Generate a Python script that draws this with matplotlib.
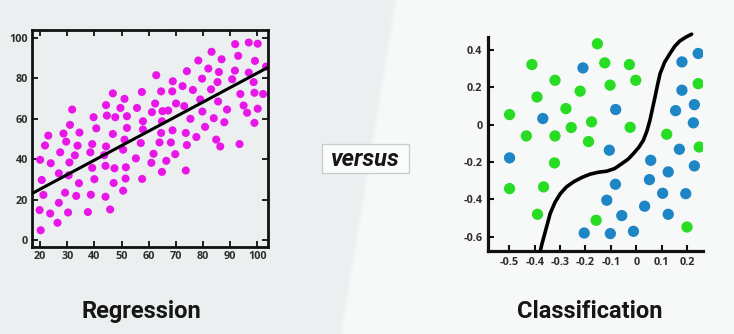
import matplotlib
matplotlib.use("Agg")
import matplotlib.pyplot as plt
from matplotlib.patches import Polygon, Rectangle

# --- regression data ---
reg_x = [20, 20.6, 21.2, 19.8, 20.2, 21.8, 23, 23.9, 23.7, 26.4, 26.9, 26.9, 27.4,
         28.6, 29.6, 30.8, 30.5, 29.2, 30.3, 31, 31.8, 32.8, 33.8, 34.5, 34.3, 33.3,
         37.6, 38.5, 39.2, 39.7, 40.7, 39.2, 40, 38.7, 44.3, 44.6, 44.3, 43.6, 44.1,
         44.1, 45.8, 46.8, 46.8, 47.7, 47.4, 47.1, 49.6, 51.1, 51.1, 50.6, 50.6, 52,
         52, 51.6, 51.5, 55.7, 57.5, 57.9, 57.9, 57.1, 55.3, 57.6, 61.2, 62.4, 62.8,
         61.8, 61, 64.6, 65.1, 64.9, 64.6, 64, 64.9, 66.5, 67.2, 68.9, 68.7, 70.1,
         68.8, 68.2, 69.8, 72.5, 73.1, 73.7, 74.1, 73.7, 74.1, 75.4, 76.3, 78.3,
         79.7, 79, 79.8, 77.6, 80.8, 82, 83.2, 83, 84, 85.4, 84.9, 85.6, 85.9, 86.9,
         86.4, 87.9, 88.9, 90.8, 91.8, 91.9, 93, 93.8, 93.5, 95, 96.3, 96.9, 96.9,
         98.7, 99, 99.2, 100.2, 100.2, 99, 102.2, 103.3]
reg_y = [39.7, 29.7, 22.3, 14.8, 4.8, 46.8, 51.7, 38, 13.1, 8.5, 18.4, 33, 43.4,
         52.7, 48.7, 38.4, 32, 23.4, 13.6, 57, 64.6, 41.9, 46.7, 53.2, 28.1, 21.8,
         13.8, 43.4, 47.5, 60.8, 55.3, 35.7, 30.1, 22.4, 66.8, 61.6, 46.3, 42, 36.7,
         21.4, 15.1, 72.6, 52.5, 60.8, 35.5, 28.2, 65.4, 69.9, 49.7, 44.7, 24.4, 61.3,
         55.5, 36, 30.4, 65.4, 73.3, 58.8, 54.7, 48, 40.4, 30.2, 63.3, 67.6, 81.6,
         42.7, 38.2, 73.6, 63.8, 58.8, 53, 48.3, 33.7, 39.2, 64.1, 78.6, 73.6, 67.6,
         54.3, 48.3, 42.5, 76.2, 66.3, 53, 47, 34.4, 83.6, 60, 74.3, 88.9,
         79.9, 69.6, 63.6, 51, 56, 84.9, 93.2, 74.6, 60.3, 78.2, 49.7, 68.6, 83.2, 89.5,
         46.3, 58.3, 64.6, 79.6, 83.9, 97, 91.2, 72.3, 47.5, 66.6, 63, 97.8, 82.9,
         78.2, 72.9, 88.7, 97.2, 65, 58, 72.3, 85.9]
fit_x = [17, 104]
fit_y = [23, 85.5]
reg_xticks = [20, 30, 40, 50, 60, 70, 80, 90, 100]
reg_yticks = [0, 20, 40, 60, 80, 100]

# --- classification data ---
green_x = [-0.153, -0.411, -0.320, -0.391, -0.499, -0.221, -0.277, -0.256, -0.176,
           -0.124, -0.103, -0.027, -0.002, -0.024, -0.188, -0.433, -0.320, -0.322,
           -0.499, -0.365, -0.389, -0.158, 0.120, 0.244, 0.248, 0.200]
green_y = [0.431, 0.320, 0.236, 0.147, 0.053, 0.178, 0.085, -0.016, 0.014,
           0.329, 0.210, 0.320, 0.236, -0.015, -0.091, -0.061, -0.061, -0.205,
           -0.342, -0.333, -0.479, -0.511, -0.052, 0.218, -0.120, -0.547]
blue_x = [-0.210, -0.081, -0.368, -0.499, -0.106, -0.082, -0.116, -0.057, -0.205,
          -0.102, -0.011, 0.033, 0.052, 0.057, 0.126, 0.104, 0.126, 0.195, 0.170,
          0.229, 0.155, 0.180, 0.180, 0.244, 0.229, 0.225]
blue_y = [0.302, 0.080, 0.032, -0.178, -0.137, -0.319, -0.404, -0.486, -0.579,
          -0.582, -0.570, -0.436, -0.294, -0.191, -0.253, -0.367, -0.479, -0.369,
          -0.132, -0.221, 0.074, 0.334, 0.183, 0.379, 0.106, 0.009]
curve_x = [-0.378, -0.372, -0.355, -0.339, -0.320, -0.299, -0.275, -0.247, -0.215,
           -0.182, -0.150, -0.116, -0.085, -0.057, -0.032, -0.011, 0.010, 0.028,
           0.042, 0.054, 0.064, 0.074, 0.084, 0.094, 0.112, 0.133, 0.152, 0.172,
           0.195, 0.218]
curve_y = [-0.675, -0.640, -0.555, -0.475, -0.415, -0.369, -0.333, -0.306, -0.283,
           -0.265, -0.255, -0.249, -0.235, -0.209, -0.185, -0.155, -0.122, -0.084,
           -0.035, 0.023, 0.085, 0.147, 0.212, 0.272, 0.333, 0.379, 0.418, 0.446,
           0.466, 0.482]
cls_xticks = [-0.5, -0.4, -0.3, -0.2, -0.1, 0, 0.1, 0.2]
cls_xlabels = ['-0.5', '-0.4', '-0.3', '-0.2', '-0.1', '0', '0.1', '0.2']
cls_yticks = [-0.6, -0.4, -0.2, 0, 0.2, 0.4]
cls_ylabels = ['-0.6', '-0.4', '-0.2', '0', '0.2', '0.4']

W, H = 734, 334
fig = plt.figure(figsize=(W / 100, H / 100), dpi=100)
fig.patch.set_facecolor('#ebeff0')

# lighter right half with a slanted edge
for i, a in enumerate([0.35, 0.6, 1.0]):
    off = (2 - i) * 2
    fig.patches.append(Polygon([((398 - off) / W, 1), (1, 1), (1, 0), ((343 - off) / W, 0)],
                               closed=True, transform=fig.transFigure,
                               facecolor='#f7f9f9', edgecolor='none', alpha=a, zorder=-1))

tick_font = dict(family='Open Sans', weight='bold', size=7.8)

# regression panel
ax1 = fig.add_axes([32 / W, 1 - 247 / H, 236 / W, 217 / H])
ax1.set_zorder(2)
ax1.set_facecolor('none')
ax1.scatter(reg_x, reg_y, s=34, color='#e817e8', edgecolors='none', zorder=2)
ax1.plot(fit_x, fit_y, color='black', lw=2.2, zorder=3, solid_capstyle='butt')
ax1.set_xlim(17, 104)
ax1.set_ylim(-3.5, 104)
ax1.set_xticks(reg_xticks)
ax1.set_yticks(reg_yticks)
ax1.tick_params(direction='in', length=4, width=1.3, color='#111111', pad=3,
                top=True, right=True, labelcolor='#2e2e2e')
for sp in ax1.spines.values():
    sp.set_linewidth(2.0)
    sp.set_color('#111111')
for lab in ax1.get_xticklabels() + ax1.get_yticklabels():
    lab.set_fontproperties(tick_font)

# classification panel
ax2 = fig.add_axes([488 / W, 1 - 251 / H, 215 / W, 214 / H])
ax2.set_zorder(2)
ax2.set_facecolor('none')
ax2.scatter(green_x, green_y, s=66, color='#28dc24', edgecolors='none', zorder=2)
ax2.scatter(blue_x, blue_y, s=66, color='#1f86c6', edgecolors='none', zorder=2)
ax2.plot(curve_x, curve_y, color='black', lw=2.6, zorder=3, clip_on=False,
         solid_joinstyle='round', solid_capstyle='round')
ax2.set_xlim(-0.584, 0.263)
ax2.set_ylim(-0.675, 0.467)
ax2.set_xticks(cls_xticks, cls_xlabels)
ax2.set_yticks(cls_yticks, cls_ylabels)
ax2.tick_params(direction='in', length=4, width=1.5, color='#111111', pad=4,
                labelcolor='#2e2e2e')
for s in ['top', 'right']:
    ax2.spines[s].set_visible(False)
for s in ['left', 'bottom']:
    ax2.spines[s].set_linewidth(2.3)
    ax2.spines[s].set_color('#111111')
for lab in ax2.get_xticklabels() + ax2.get_yticklabels():
    lab.set_fontproperties(tick_font)

# versus tag
fig.patches.append(Rectangle((322 / W, 1 - 173 / H), 87 / W, 29 / H,
                             transform=fig.transFigure, facecolor='#fbfcfc',
                             edgecolor='#c9cccd', lw=0.9, zorder=1))
fig.text(365.5 / W, 1 - 159 / H, 'versus', ha='center', va='center',
         family='Roboto', weight='bold', style='italic', size=17, color='#161616')

fig.text(141.5 / W, 1 - 318 / H, 'Regression', ha='center', va='baseline',
         family='Roboto', weight='bold', size=17, color='#161616')
fig.text(590 / W, 1 - 318 / H, 'Classification', ha='center', va='baseline',
         family='Roboto', weight='bold', size=17, color='#161616')

fig.savefig('out.png', dpi=100, facecolor=fig.get_facecolor())
